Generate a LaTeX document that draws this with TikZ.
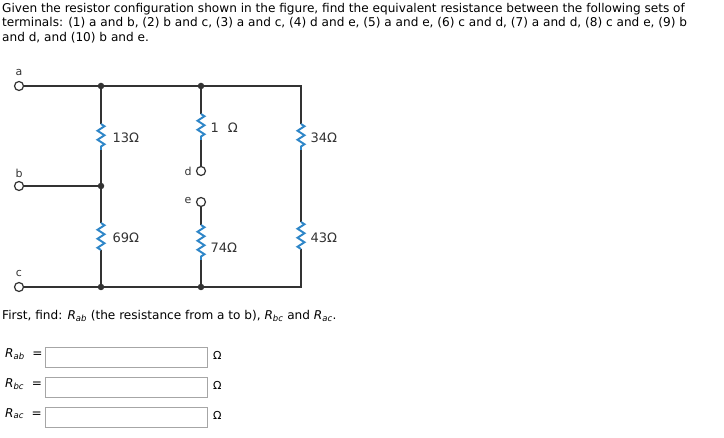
\documentclass[tikz,border=0pt]{standalone}
\usepackage{fontspec}
\setmainfont{DejaVu Sans}
\usetikzlibrary{decorations.pathmorphing}
\definecolor{wire}{HTML}{333333}
\definecolor{res}{HTML}{2E86C8}
\newcommand{\Rsub}[1]{\textit{R}\textsubscript{\textit{#1}}}
\begin{document}
\begin{tikzpicture}[x=1pt,y=-1pt,
  wirest/.style={draw=wire,line width=1.9pt},
  resst/.style={draw=res,line width=1.9pt,decorate,decoration={zigzag,segment length=9pt,amplitude=3.5pt}},
  term/.style={circle,draw=wire,line width=1.2pt,fill=white,minimum size=9pt,inner sep=0pt},
  dot/.style={circle,fill=wire,minimum size=6.5pt,inner sep=0pt},
  lbl/.style={font=\fontsize{13}{16}\selectfont,text=wire},
  tlbl/.style={font=\fontsize{11}{12}\selectfont,text=wire},
  txt/.style={font=\fontsize{12.1}{14.5}\selectfont,anchor=north west,inner sep=0pt,align=left},
  box/.style={draw=gray!70,minimum width=162pt,minimum height=20pt,anchor=north west,inner sep=0pt}]
\useasboundingbox (0,0) rectangle (724,438);
\node[txt] (q) at (2,3) {Given the resistor configuration shown in the figure, find the equivalent resistance between the following sets of\\terminals: (1) a and b, (2) b and c, (3) a and c, (4) d and e, (5) a and e, (6) c and d, (7) a and d, (8) c and e, (9) b\\and d, and (10) b and e.};
\coordinate (ja) at (101,86); \coordinate (jm) at (201,86); \coordinate (tr) at (301,86);
\coordinate (jb) at (101,186); \coordinate (jc) at (101,287); \coordinate (jcm) at (201,287); \coordinate (br) at (301,287);
\coordinate (r1t) at (101,124); \coordinate (r1b) at (101,150);
\coordinate (r2t) at (101,223); \coordinate (r2b) at (101,250);
\coordinate (r3t) at (201,114); \coordinate (r3b) at (201,140);
\coordinate (r4t) at (201,225); \coordinate (r4b) at (201,260);
\coordinate (r5t) at (301,124); \coordinate (r5b) at (301,150);
\coordinate (r6t) at (301,222); \coordinate (r6b) at (301,249);
\node[tlbl] at (19,73) {a}; \node[tlbl] at (19,173) {b}; \node[tlbl] at (19,273) {c};
\node[tlbl] at (188,171) {d}; \node[tlbl] at (188,201) {e};
\draw[wirest] (19,86) -- (ja) -- (jm) -- (tr) -- (r5t);
\draw[wirest] (r5b) -- (r6t);
\draw[wirest] (r6b) -- (br) -- (jcm) -- (jc) -- (19,287);
\draw[wirest] (19,186) -- (jb);
\draw[wirest] (ja) -- (r1t); \draw[wirest] (r1b) -- (jb) -- (r2t); \draw[wirest] (r2b) -- (jc);
\draw[wirest] (jm) -- (r3t); \draw[wirest] (r3b) -- (201,171);
\draw[wirest] (201,202) -- (r4t); \draw[wirest] (r4b) -- (jcm);
\foreach \i in {1,...,6} \draw[resst] (r\i t) -- (r\i b);
\node[term] (a) at (19,86) {}; \node[term] (b) at (19,186) {}; \node[term] (c) at (19,287) {};
\node[term] (d) at (201,171) {}; \node[term] (e) at (201,202) {};
\foreach \p in {ja,jm,jb,jc,jcm} \node[dot] at (\p) {};
\node[lbl,anchor=west] at (109,138) {13Ω};
\node[lbl,anchor=west] at (109,238) {69Ω};
\node[lbl,anchor=west] at (207,128) {1\hspace{9pt}Ω};
\node[lbl,anchor=west] at (207,248) {74Ω};
\node[lbl,anchor=west] at (307,138) {34Ω};
\node[lbl,anchor=west] at (307,238) {43Ω};
\node[txt] (f) at (2,310) {First, find: \Rsub{ab} (the resistance from a to b), \Rsub{bc} and \Rsub{ac}.};
\foreach \n/\s/\y in {1/ab/347,2/bc/377,3/ac/407}{
  \node[txt] (l\n) at (5,\y+1) {\Rsub{\s}\ \ =};
  \node[box] (b\n) at (45,\y) {};
  \node[txt,font=\fontsize{11}{12}\selectfont] (o\n) at (213,\y+4) {Ω};
}
\end{tikzpicture}
\end{document}
